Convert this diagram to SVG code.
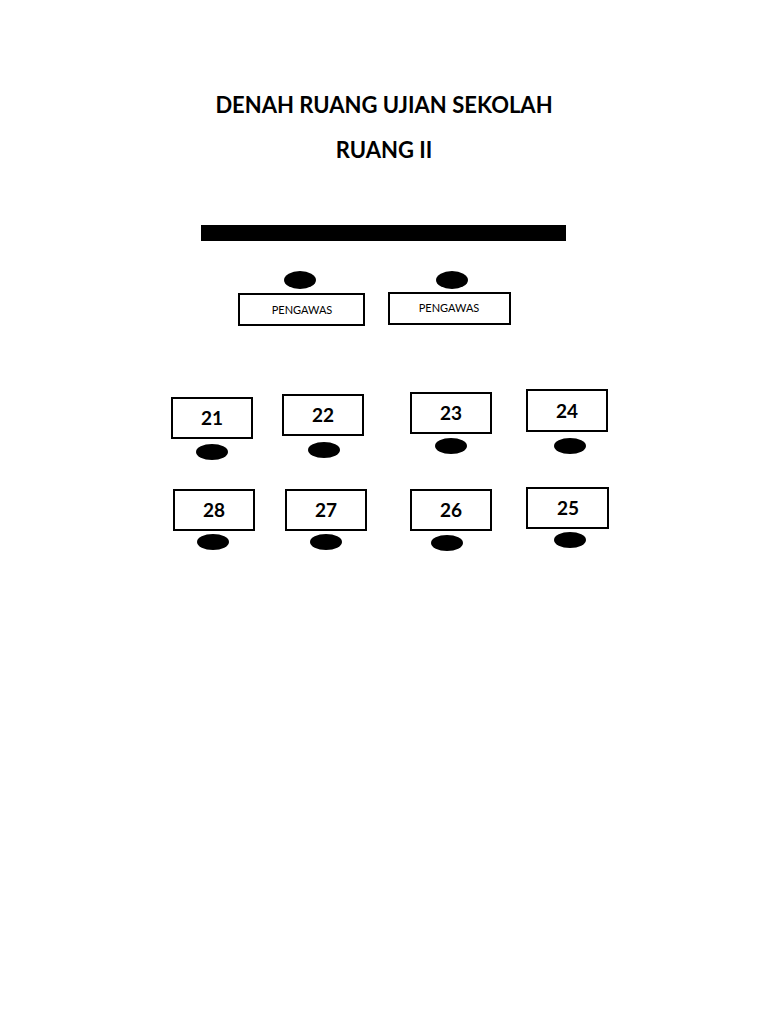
<svg xmlns="http://www.w3.org/2000/svg" width="768" height="1024" viewBox="0 0 768 1024">
<style>
.t{font-family:Lato,"Liberation Sans",sans-serif;font-weight:bold;fill:#000;text-anchor:middle}
.b{fill:#fff;stroke:#000;stroke-width:2}
.n{font-family:Lato,"Liberation Sans",sans-serif;font-weight:bold;font-size:19px;text-anchor:middle}
.p{font-family:Lato,"Liberation Sans",sans-serif;font-size:11px;text-anchor:middle}
</style>
<rect width="768" height="1024" fill="#fff"/>
<text class="t" x="384" y="113" font-size="22">DENAH RUANG UJIAN SEKOLAH</text>
<text class="t" x="384" y="158" font-size="22">RUANG II</text>
<rect id="board" x="201" y="225" width="365" height="16" fill="#000"/>
<g id="pengawas1"><ellipse cx="300" cy="280" rx="16" ry="9"/><rect class="b" x="239" y="294" width="125" height="31"/><text class="p" x="302" y="314">PENGAWAS</text></g>
<g id="pengawas2"><ellipse cx="452" cy="280" rx="16" ry="9"/><rect class="b" x="389" y="293" width="121" height="31"/><text class="p" x="449" y="312">PENGAWAS</text></g>
<g id="s21"><rect class="b" x="172" y="398" width="80" height="40"/><text class="n" x="212" y="425">21</text><ellipse cx="212" cy="452" rx="16" ry="8"/></g>
<g id="s22"><rect class="b" x="283" y="395" width="80" height="40"/><text class="n" x="323" y="422">22</text><ellipse cx="324" cy="450" rx="16" ry="8"/></g>
<g id="s23"><rect class="b" x="411" y="393" width="80" height="40"/><text class="n" x="451" y="420">23</text><ellipse cx="451" cy="446" rx="16" ry="8"/></g>
<g id="s24"><rect class="b" x="527" y="390" width="80" height="41"/><text class="n" x="567" y="418">24</text><ellipse cx="570" cy="446" rx="16" ry="8"/></g>
<g id="s28"><rect class="b" x="174" y="490" width="80" height="40"/><text class="n" x="214" y="517">28</text><ellipse cx="213" cy="542" rx="16" ry="8"/></g>
<g id="s27"><rect class="b" x="286" y="490" width="80" height="40"/><text class="n" x="326" y="517">27</text><ellipse cx="326" cy="542" rx="16" ry="8"/></g>
<g id="s26"><rect class="b" x="411" y="490" width="80" height="40"/><text class="n" x="451" y="517">26</text><ellipse cx="447" cy="543" rx="16" ry="8"/></g>
<g id="s25"><rect class="b" x="527" y="488" width="81" height="40"/><text class="n" x="568" y="515">25</text><ellipse cx="570" cy="540" rx="16" ry="8"/></g>
<g id="connectors"/>
</svg>
